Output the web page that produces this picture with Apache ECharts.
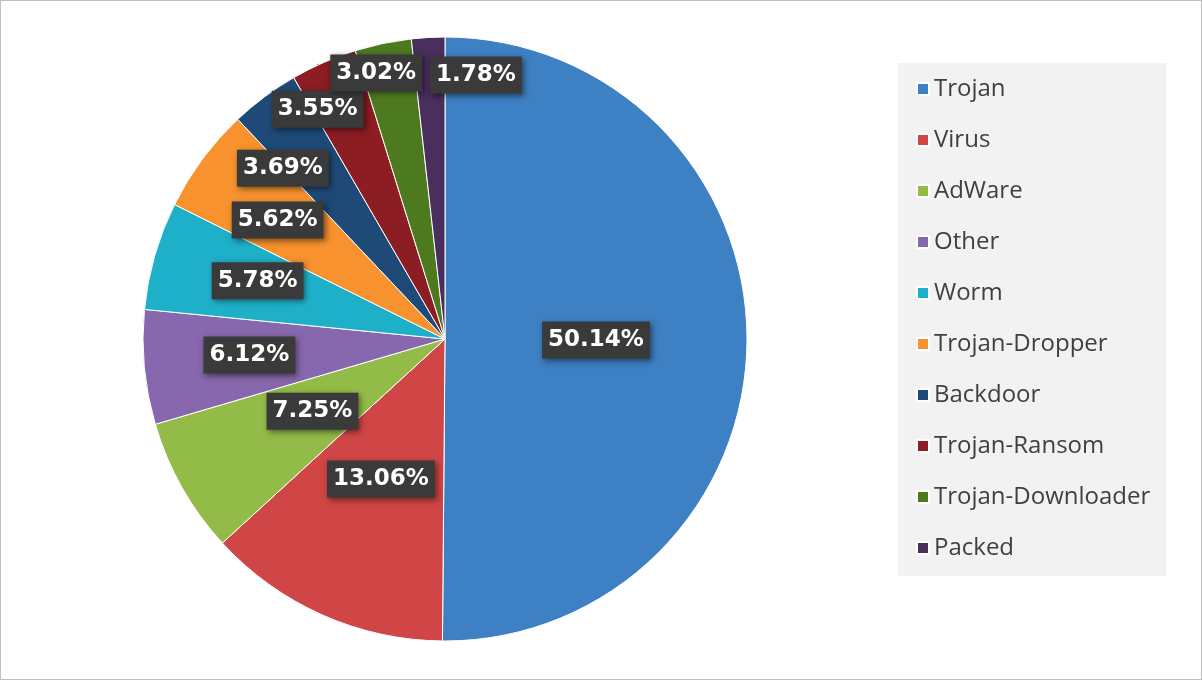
<!DOCTYPE html>
<html>
<head>
<meta charset="utf-8">
<script src="https://cdn.jsdelivr.net/npm/echarts@6/dist/echarts.min.js"></script>
<style>
  html, body { margin: 0; padding: 0; background: #fff; }
  #chart { width: 1200px; height: 678px; border: 1px solid #bfbfbf; }
</style>
</head>
<body>
<div id="chart"></div>
<script type="text/javascript">
  // Malware categories and their shares (%)
  var categories = ['Trojan', 'Virus', 'AdWare', 'Other', 'Worm', 'Trojan-Dropper',
    'Backdoor', 'Trojan-Ransom', 'Trojan-Downloader', 'Packed'];
  var shares = [50.14, 13.06, 7.25, 6.12, 5.78, 5.62, 3.69, 3.55, 3.02, 1.78];
  var colors = ['#3d80c3', '#d04545', '#92bb48', '#8767ad', '#1fb0c9', '#f7922e',
    '#1f4a78', '#8c1d22', '#4e7a1f', '#4a2e5e'];
  // label anchor: angle (deg, clockwise from top) and distance (fraction of radius)
  var labelAngle = [90.4, 204.6, 241.4, 265.3, 287.3, 305.4, 316.5, 331, 345.5, 6.7];
  var labelRadius = [0.5, 0.51, 0.5, 0.65, 0.65, 0.68, 0.78, 0.87, 0.91, 0.88];

  var chart = echarts.init(document.getElementById('chart'));
  var cx = 444, cy = 338, R = 302;

  var option = {
    animation: false,
    legend: {
      orient: 'vertical',
      left: 897,
      top: 62,
      padding: [14, 16, 16, 18],
      backgroundColor: '#f2f2f2',
      itemGap: 27,
      itemWidth: 12,
      itemHeight: 12,
      icon: 'rect',
      textStyle: { fontSize: 24, color: '#404040', fontFamily: 'Open Sans', padding: [0, 14, 0, 0] },
      data: categories
    },
    series: [{
      type: 'pie',
      center: [cx, cy],
      radius: [0, R],
      startAngle: 90,
      clockwise: true,
      itemStyle: { borderColor: '#ffffff', borderWidth: 1 },
      label: {
        show: true,
        position: 'inside',
        formatter: function (p) { return p.value.toFixed(2) + '%'; },
        color: '#ffffff',
        fontSize: 23,
        fontWeight: 'bold',
        fontFamily: 'DejaVu Sans',
        backgroundColor: '#3a3a3a',
        padding: [8, 6, 6, 6],
        shadowColor: 'rgba(0,0,0,0.5)',
        shadowBlur: 6,
        shadowOffsetX: 2,
        shadowOffsetY: 2
      },
      labelLayout: function (params) {
        var i = params.dataIndex;
        var a = labelAngle[i] * Math.PI / 180;
        var r = R * labelRadius[i];
        return {
          x: cx + r * Math.sin(a),
          y: cy - r * Math.cos(a),
          align: 'center',
          verticalAlign: 'middle'
        };
      },
      data: categories.map(function (name, i) {
        return { name: name, value: shares[i], itemStyle: { color: colors[i] } };
      })
    }]
  };

  chart.setOption(option);
  window.onresize = function () { chart.resize(); };
</script>
</body>
</html>
